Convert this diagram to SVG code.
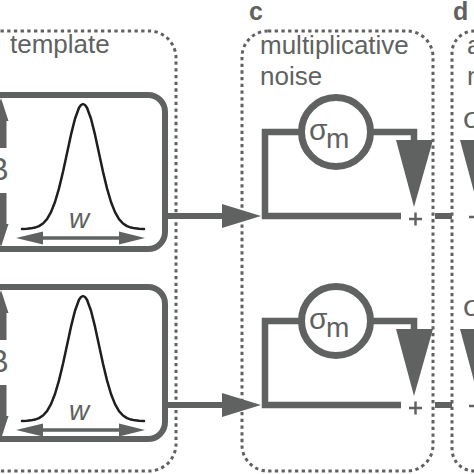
<svg xmlns="http://www.w3.org/2000/svg" xmlns:xlink="http://www.w3.org/1999/xlink" width="474" height="474" viewBox="0 0 474 474">
<style>
.t{font-family:"Liberation Sans",Arial,sans-serif;fill:#606262}
.b{font-weight:bold}
.dot{fill:none;stroke:#606262;stroke-width:3;stroke-dasharray:3.3 3.4}
.ln{fill:none;stroke:#606262;stroke-linejoin:miter}
.fg{fill:#606262}
.cur{fill:none;stroke:#1e1e1e;stroke-width:2.5;stroke-linejoin:round;stroke-linecap:round}
</style>
<defs>
<path id="gauss" d="M22 229 L27 228.7 L31 228.36 L35 227.6 L39 226.15 L43 223.5 L47 219.05 L51 212.1 L55 202 L59 188.4 L63 171.8 L67 153.2 L71 134.65 L75 118.7 L79 107.8 L81 105 L83 104 L85 105 L87 107.8 L91 118.7 L95 134.65 L99 153.2 L103 171.8 L107 188.4 L111 202 L115 212.1 L119 219.05 L123 223.5 L127 226.15 L131 227.6 L135 228.36 L139 228.7 L144 229"/>
<g id="tmpl-content">
<use xlink:href="#gauss" class="cur"/>
<text class="t" x="69" y="228" font-size="28" font-style="italic">w</text>
<line class="ln" x1="40" y1="238" x2="122" y2="238" stroke-width="3.5"/>
<polygon class="fg" points="16,238 43,231.5 43,244.5"/>
<polygon class="fg" points="145,238 119,231.5 119,244.5"/>
<rect class="fg" x="-4.5" y="118" width="11" height="30"/>
<polygon class="fg" points="1,98 -6.5,121 8.5,121"/>
<text class="t" x="-12" y="180" font-size="31">B</text>
<rect class="fg" x="-4.5" y="193" width="11" height="33"/>
<polygon class="fg" points="1,247 -6.5,224 8.5,224"/>
</g>
<g id="circuit">
<path class="ln" d="M401 216 H265 V132 H302" stroke-width="6.5"/>
<path class="ln" d="M370 132 H414 V142" stroke-width="6.5"/>
<circle cx="336" cy="132" r="34.5" fill="none" stroke="#606262" stroke-width="7"/>
<text class="t" x="309" y="140" font-size="30">σ</text>
<text class="t" x="326" y="148" font-size="28">m</text>
<polygon class="fg" points="396,140 433,140 414,207"/>
<path class="ln" d="M409 219 H422 M415.5 212.5 V225.5" stroke-width="2.5"/>
</g>
</defs>

<g id="panels">
<rect class="dot" x="-60" y="31" width="236" height="440" rx="27"/>
<rect class="dot" x="242" y="31" width="191" height="440" rx="26"/>
<rect class="dot" x="452" y="31" width="100" height="440" rx="22"/>
<text class="t" x="10" y="53" font-size="26">template</text>
<text class="t b" x="249" y="20" font-size="25">c</text>
<text class="t" x="260" y="54" font-size="26">multiplicative</text>
<text class="t" x="260" y="85" font-size="26">noise</text>
<text class="t b" x="453" y="20" font-size="25">d</text>
<text class="t" x="467" y="54" font-size="26">a</text>
<text class="t" x="467" y="85" font-size="26">n</text>
</g>

<g id="template-top">
<rect x="-40" y="95" width="205" height="154" rx="17" fill="none" stroke="#606262" stroke-width="6"/>
<use xlink:href="#tmpl-content"/>
</g>
<g id="template-bottom">
<rect x="-40" y="287" width="205" height="152" rx="17" fill="none" stroke="#606262" stroke-width="6"/>
<use xlink:href="#tmpl-content" transform="translate(0,192)"/>
</g>

<g id="noise-top"><use xlink:href="#circuit"/></g>
<g id="noise-bottom"><use xlink:href="#circuit" transform="translate(0,189)"/></g>

<g id="additive-top">
<text class="t" x="463" y="128" font-size="30">σ</text>
<polygon class="fg" points="460,140 497,140 478,207"/>
<line class="ln" x1="469" y1="217" x2="483" y2="217" stroke-width="2.5"/>
</g>
<g id="additive-bottom">
<text class="t" x="463" y="316" font-size="30">σ</text>
<polygon class="fg" points="460,329 497,329 478,396"/>
<line class="ln" x1="469" y1="406" x2="483" y2="406" stroke-width="2.5"/>
</g>

<g id="connectors">
<line class="ln" x1="168" y1="216" x2="226" y2="216" stroke-width="6"/>
<polygon class="fg" points="261,216 222,204 222,228"/>
<line class="ln" x1="168" y1="405" x2="226" y2="405" stroke-width="6"/>
<polygon class="fg" points="261,405 222,393 222,417"/>
<line class="ln" x1="435" y1="216" x2="452" y2="216" stroke-width="6"/>
<line class="ln" x1="435" y1="405" x2="452" y2="405" stroke-width="6"/>
</g>
</svg>
